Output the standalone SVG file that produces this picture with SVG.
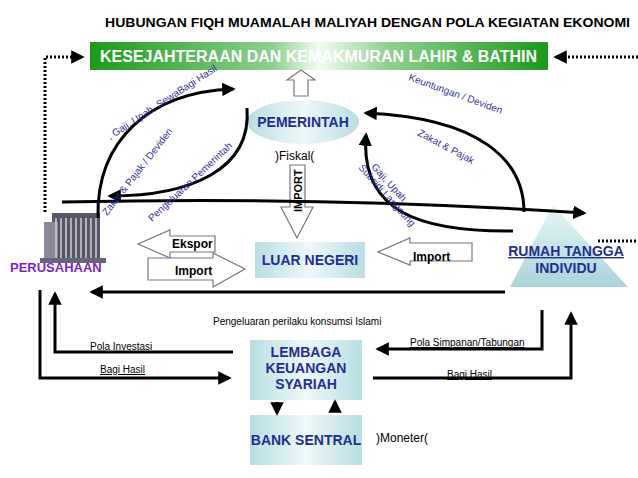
<svg xmlns="http://www.w3.org/2000/svg" width="638" height="478" viewBox="0 0 638 478">
<style>
text{font-family:"Liberation Sans",Arial,sans-serif}
.lab{font-size:10px;fill:#333399}
.sm{font-size:10px;fill:#000}
.nb{font-size:14px;font-weight:bold;fill:#1f2f8f}
.ln{fill:none;stroke:#000;stroke-width:3}
.dot{fill:none;stroke:#000;stroke-width:3;stroke-dasharray:2 2}
.hol{fill:#fff;stroke:#777;stroke-width:1.2}
</style>
<defs>
<marker id="ah" viewBox="0 0 10 10" refX="8" refY="5" markerWidth="4.5" markerHeight="4.5" orient="auto"><path d="M0,0L10,5L0,10z" fill="#000"/></marker>
<linearGradient id="gb" x1="0" x2="1"><stop offset="0" stop-color="#1a9a1a"/><stop offset="0.4" stop-color="#8fd08f"/><stop offset="0.5" stop-color="#f4fbf4"/><stop offset="0.65" stop-color="#8fd08f"/><stop offset="1" stop-color="#1a9a1a"/></linearGradient>
<linearGradient id="bl" x1="0" x2="1"><stop offset="0" stop-color="#b8dde3"/><stop offset="0.5" stop-color="#eef8fa"/><stop offset="1" stop-color="#b8dde3"/></linearGradient>
<linearGradient id="bv" x1="0" y1="0" x2="0" y2="1"><stop offset="0" stop-color="#e8f6f8"/><stop offset="1" stop-color="#a9d3da"/></linearGradient>
</defs>
<rect width="638" height="478" fill="#fff"/>
<text x="105" y="27" font-size="13" font-weight="bold" textLength="525" lengthAdjust="spacingAndGlyphs">HUBUNGAN FIQH MUAMALAH MALIYAH DENGAN POLA KEGIATAN EKONOMI</text>
<g id="banner"><rect x="90" y="42" width="458" height="28" fill="url(#gb)"/><text x="100" y="62" font-size="16" font-weight="bold" fill="#fff">KESEJAHTERAAN DAN KEMAKMURAN LAHIR &amp; BATHIN</text></g>
<g id="pemerintah"><ellipse cx="303" cy="122" rx="56" ry="22" fill="url(#bl)"/><text x="303" y="127" text-anchor="middle" class="nb">PEMERINTAH</text></g>
<text x="275" y="160" font-size="12">)Fiskal(</text>
<g id="luarnegeri"><rect x="255" y="242" width="110" height="36" fill="url(#bl)"/><text x="310" y="265" text-anchor="middle" class="nb">LUAR NEGERI</text></g>
<g id="perusahaan">
<rect x="52" y="213" width="48" height="50" fill="#556"/>
<rect x="44" y="222" width="14" height="41" fill="#889"/>
<g stroke="#ccd" stroke-width="1.5"><path d="M56,218V258M61,218V258M66,218V258M71,218V258M76,218V258M81,218V258M86,218V258M91,218V258M96,218V258"/></g>
<rect x="40" y="258" width="66" height="5" fill="#667"/>
<text x="10" y="272" font-size="13" font-weight="bold" fill="#7a1fc8">PERUSAHAAN</text></g>
<g id="rumahtangga"><path d="M553,205L628,287H510z" fill="url(#bv)"/>
<text x="566" y="256" text-anchor="middle" class="nb" text-decoration="underline">RUMAH TANGGA</text><text x="566" y="273" text-anchor="middle" class="nb">INDIVIDU</text></g>
<g id="lembaga"><rect x="250" y="340" width="112" height="60" fill="url(#bl)"/>
<text x="306" y="357" text-anchor="middle" class="nb">LEMBAGA</text><text x="306" y="373" text-anchor="middle" class="nb">KEUANGAN</text><text x="306" y="389" text-anchor="middle" class="nb">SYARIAH</text></g>
<g id="banksentral"><rect x="250" y="415" width="112" height="50" fill="url(#bl)"/><text x="306" y="445" text-anchor="middle" class="nb">BANK SENTRAL</text></g>
<text x="376" y="442" font-size="12">)Moneter(</text>
<g id="connectors">
<path class="dot" d="M45,212V57H82" marker-end="url(#ah)"/>
<path class="dot" d="M638,57H556" marker-end="url(#ah)"/>
<path class="dot" d="M598,241H638"/>
<path class="hol" d="M294,96V80H287L301,70L315,80H308V96z"/>
<path class="hol" d="M290,165H305V207H313L297,238L281,207H290z"/>
<text transform="translate(302,212) rotate(-90)" font-size="11" font-weight="bold">IMPORT</text>
<path class="hol" d="M215,236V252H170V258L138,244L170,230V236z"/>
<text x="172" y="248" font-size="12" font-weight="bold">Ekspor</text>
<path class="hol" d="M148,258V280H213V287L245,269L213,253V258z"/>
<text x="175" y="275" font-size="12" font-weight="bold">Import</text>
<path class="hol" d="M472,243V261H410V265L378,252L410,238V243z"/>
<text x="413" y="261" font-size="12" font-weight="bold">Import</text>
<path class="ln" d="M62,202Q330,196 584,213" marker-end="url(#ah)"/>
<path class="ln" d="M98,218C96,140 150,92 233,89" marker-end="url(#ah)"/>
<path class="ln" d="M247,108C252,170 190,196 110,196" marker-end="url(#ah)"/>
<path class="ln" d="M524,212C524,160 480,118 366,113" marker-end="url(#ah)"/>
<path class="ln" d="M513,231C420,232 360,212 366,135" marker-end="url(#ah)"/>
<path class="ln" d="M505,292H92" marker-end="url(#ah)"/>
<path class="ln" d="M40,290V378H229" marker-end="url(#ah)"/>
<path class="ln" d="M233,352H55V294" marker-end="url(#ah)"/>
<path class="ln" d="M542,310V349H378" marker-end="url(#ah)"/>
<path class="ln" d="M373,378H571V314" marker-end="url(#ah)"/>
<path class="ln" d="M277,402V413" marker-end="url(#ah)"/>
<path class="ln" d="M335,412V402" marker-end="url(#ah)"/>
</g>
<text class="lab" transform="translate(110,140) rotate(-33)">, Gaji, Upah, SewaBagi Hasil</text>
<text class="lab" transform="translate(107,216) rotate(-52)">Zakat &amp; Pajak / Deviden</text>
<text class="lab" transform="translate(152,222) rotate(-43)">Pengeluaran Pemerintah</text>
<text class="lab" transform="translate(408,80) rotate(20)">Keuntungan / Deviden</text>
<text class="lab" transform="translate(417,135) rotate(28)">Zakat &amp; Pajak</text>
<text class="lab" transform="translate(367,163) rotate(48)">, Gaji, Upah</text>
<text class="lab" transform="translate(358,168) rotate(48)">Subsidi Langsung</text>
<text x="213" y="325" class="sm">Pengeluaran perilaku konsumsi Islami</text>
<text x="90" y="350" class="sm">Pola Investasi</text>
<text x="100" y="373" class="sm" text-decoration="underline">Bagi Hasil</text>
<text x="410" y="346" class="sm" text-decoration="underline">Pola Simpanan/Tabungan</text>
<text x="447" y="378" class="sm" text-decoration="underline">Bagi Hasil</text>
</svg>
